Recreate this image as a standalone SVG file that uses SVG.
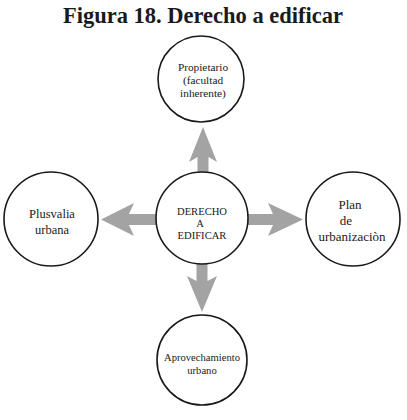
<svg xmlns="http://www.w3.org/2000/svg" width="407" height="420" viewBox="0 0 407 420">
<style>
.c{fill:#fff;stroke:#1a1a1a;stroke-width:1.6}
.t{font-family:"Liberation Serif","Times New Roman",serif;fill:#1a1a1a;text-anchor:middle}
.a{fill:#a3a3a3}
</style>
<rect width="407" height="420" fill="#fff"/>
<text id="title" class="t" x="203" y="23" font-size="22.5" font-weight="bold" fill="#000">Figura 18. Derecho a edificar</text>
<g id="connectors">
<polygon class="a" points="203,127 217,162 208.5,157 208.5,173 197.5,173 197.5,157 189,162"/>
<polygon class="a" points="202,312 217,276 207.5,281 207.5,263 196.5,263 196.5,281 187,276"/>
<polygon class="a" points="101,219.5 134,203 129,214 157,214 157,225 129,225 134,236"/>
<polygon class="a" points="303,219.5 268,203 273,214 248,214 248,225 273,225 268,236"/>
</g>
<g id="center">
<circle class="c" cx="202" cy="218" r="46"/>
<text class="t" font-size="10.6" x="202" y="215">DERECHO</text>
<text class="t" font-size="10.6" x="200" y="227">A</text>
<text class="t" font-size="10.6" x="202" y="239">EDIFICAR</text>
</g>
<g id="propietario">
<circle class="c" cx="201" cy="79" r="43"/>
<text class="t" font-size="11.3" x="203" y="71">Propietario</text>
<text class="t" font-size="11.3" x="203" y="84">(facultad</text>
<text class="t" font-size="11.3" x="203" y="97">inherente)</text>
</g>
<g id="plusvalia">
<circle class="c" cx="51" cy="219" r="47"/>
<text class="t" font-size="12.5" x="52" y="218">Plusvalia</text>
<text class="t" font-size="12.5" x="52" y="234">urbana</text>
</g>
<g id="plan">
<circle class="c" cx="353" cy="219" r="47"/>
<text class="t" font-size="13" x="350" y="209">Plan</text>
<text class="t" font-size="13" x="346" y="225">de</text>
<text class="t" font-size="13" x="352" y="241">urbanizaciòn</text>
</g>
<g id="aprovechamiento">
<circle class="c" cx="202" cy="360" r="45"/>
<text class="t" font-size="10.6" x="202" y="361">Aprovechamiento</text>
<text class="t" font-size="10.6" x="202" y="374">urbano</text>
</g>
</svg>
